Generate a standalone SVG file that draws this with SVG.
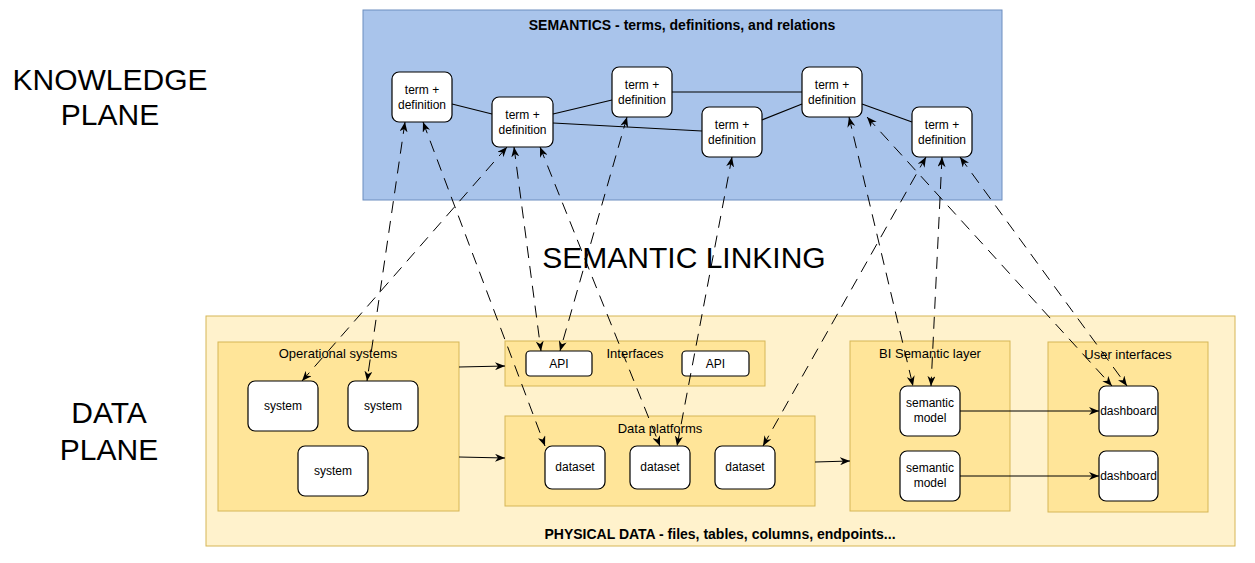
<svg xmlns="http://www.w3.org/2000/svg" width="1255" height="563" viewBox="0 0 1255 563">
<style>
text{font-family:"Liberation Sans",Arial,sans-serif;fill:#000;text-anchor:middle}
.big{font-size:30px}
.t12{font-size:12px}
.t13{font-size:13px}
.b14{font-size:14px;font-weight:bold}
.node{fill:#fff;stroke:#000;stroke-width:1.2}
.grp{fill:#FFE599;stroke:#D6B656;stroke-width:1}
.rel{stroke:#000;stroke-width:1.2;fill:none}
.dash{stroke:#000;stroke-width:1;fill:none;stroke-dasharray:12 8;marker-start:url(#ah);marker-end:url(#ah)}
.flow{stroke:#000;stroke-width:1;fill:none;marker-end:url(#ah)}
</style>
<defs>
<marker id="ah" viewBox="0 0 10 8" refX="10" refY="4" markerWidth="10" markerHeight="8" markerUnits="userSpaceOnUse" orient="auto-start-reverse">
<path d="M0,0 L10,4 L0,8 L3,4 z" style="fill:#000;stroke:none"/>
</marker>
</defs>
<rect width="1255" height="563" fill="#fff"/>

<g id="plane-labels">
<text class="big" x="110" y="90">KNOWLEDGE</text>
<text class="big" x="110" y="125">PLANE</text>
<text class="big" x="109" y="423">DATA</text>
<text class="big" x="109" y="460">PLANE</text>
<text class="big" x="684" y="268">SEMANTIC LINKING</text>
</g>

<g id="semantics">
<rect x="363" y="10" width="639" height="190" fill="#A9C4EB" stroke="#6C8EBF" stroke-width="1"/>
<text class="b14" x="682" y="30">SEMANTICS - terms, definitions, and relations</text>
</g>

<g id="physical-data">
<rect x="206" y="316" width="1029" height="230" fill="#FFF2CC" stroke="#D6B656" stroke-width="1"/>
<text class="b14" x="720" y="539">PHYSICAL DATA - files, tables, columns, endpoints...</text>
</g>

<g id="operational-systems">
<rect class="grp" x="218" y="342" width="241" height="169"/>
<text class="t13" x="338" y="358">Operational systems</text>
</g>
<g id="interfaces">
<rect class="grp" x="505" y="341" width="260" height="45"/>
<text class="t13" x="635" y="358">Interfaces</text>
</g>
<g id="data-platforms">
<rect class="grp" x="505" y="416" width="310" height="90"/>
<text class="t13" x="660" y="433">Data platforms</text>
</g>
<g id="bi-semantic-layer">
<rect class="grp" x="850" y="341" width="160" height="170"/>
<text class="t13" x="930" y="358">BI Semantic layer</text>
</g>
<g id="user-interfaces">
<rect class="grp" x="1048" y="342" width="160" height="170"/>
<text class="t13" x="1128" y="359">User interfaces</text>
</g>

<g id="term1"><rect class="node" x="392" y="72" width="60" height="50" rx="7"/><text class="t12" x="422" y="94">term +</text><text class="t12" x="422" y="109">definition</text></g>
<g id="term2"><rect class="node" x="492" y="97" width="61" height="50" rx="7"/><text class="t12" x="522.5" y="119">term +</text><text class="t12" x="522.5" y="134">definition</text></g>
<g id="term3"><rect class="node" x="612" y="67" width="60" height="50" rx="7"/><text class="t12" x="642" y="89">term +</text><text class="t12" x="642" y="104">definition</text></g>
<g id="term4"><rect class="node" x="702" y="107" width="60" height="50" rx="7"/><text class="t12" x="732" y="129">term +</text><text class="t12" x="732" y="144">definition</text></g>
<g id="term5"><rect class="node" x="802" y="67" width="60" height="50" rx="7"/><text class="t12" x="832" y="89">term +</text><text class="t12" x="832" y="104">definition</text></g>
<g id="term6"><rect class="node" x="912" y="107" width="60" height="50" rx="7"/><text class="t12" x="942" y="129">term +</text><text class="t12" x="942" y="144">definition</text></g>

<g id="system1"><rect class="node" x="248" y="381" width="70" height="50" rx="7"/><text class="t12" x="283" y="410">system</text></g>
<g id="system2"><rect class="node" x="348" y="381" width="70" height="50" rx="7"/><text class="t12" x="383" y="410">system</text></g>
<g id="system3"><rect class="node" x="298" y="446" width="70" height="50" rx="7"/><text class="t12" x="333" y="475">system</text></g>

<g id="api1"><rect class="node" x="526" y="351" width="66" height="25" rx="4"/><text class="t12" x="559" y="368">API</text></g>
<g id="api2"><rect class="node" x="682" y="351" width="67" height="25" rx="4"/><text class="t12" x="715.5" y="368">API</text></g>

<g id="dataset1"><rect class="node" x="545" y="446" width="60" height="43" rx="7"/><text class="t12" x="575" y="471">dataset</text></g>
<g id="dataset2"><rect class="node" x="630" y="446" width="60" height="43" rx="7"/><text class="t12" x="660" y="471">dataset</text></g>
<g id="dataset3"><rect class="node" x="715" y="446" width="60" height="43" rx="7"/><text class="t12" x="745" y="471">dataset</text></g>

<g id="semantic-model1"><rect class="node" x="900" y="386" width="60" height="50" rx="7"/><text class="t12" x="930" y="407">semantic</text><text class="t12" x="930" y="422">model</text></g>
<g id="semantic-model2"><rect class="node" x="900" y="451" width="60" height="50" rx="7"/><text class="t12" x="930" y="472">semantic</text><text class="t12" x="930" y="487">model</text></g>

<g id="dashboard1"><rect class="node" x="1099" y="386" width="59" height="50" rx="7"/><text class="t12" x="1128.5" y="415">dashboard</text></g>
<g id="dashboard2"><rect class="node" x="1099" y="451" width="59" height="50" rx="7"/><text class="t12" x="1128.5" y="480">dashboard</text></g>

<g id="connectors">
<line class="rel" x1="452" y1="104" x2="492" y2="114"/>
<line class="rel" x1="553" y1="114" x2="612" y2="100"/>
<line class="rel" x1="553" y1="123" x2="702" y2="131"/>
<line class="rel" x1="672" y1="92" x2="802" y2="92"/>
<line class="rel" x1="762" y1="120" x2="802" y2="104"/>
<line class="rel" x1="862" y1="104" x2="912" y2="122"/>

<line class="flow" x1="459" y1="367" x2="505" y2="366"/>
<line class="flow" x1="459" y1="457" x2="505" y2="458"/>
<line class="flow" x1="815" y1="462" x2="850" y2="461"/>
<line class="flow" x1="960" y1="411" x2="1099" y2="411"/>
<line class="flow" x1="960" y1="476" x2="1099" y2="476"/>

<line class="dash" x1="405" y1="122" x2="367" y2="381"/>
<line class="dash" x1="423" y1="122" x2="545" y2="446"/>
<line class="dash" x1="507" y1="147" x2="302" y2="381"/>
<line class="dash" x1="514" y1="147" x2="541" y2="351"/>
<line class="dash" x1="540" y1="147" x2="660" y2="446"/>
<line class="dash" x1="627" y1="117" x2="560" y2="351"/>
<line class="dash" x1="732" y1="157" x2="677" y2="446"/>
<line class="dash" x1="849" y1="117" x2="913" y2="386"/>
<line class="dash" x1="867" y1="117" x2="1112" y2="386"/>
<line class="dash" x1="926" y1="157" x2="763" y2="446"/>
<line class="dash" x1="942" y1="157" x2="931" y2="386"/>
<line class="dash" x1="960" y1="157" x2="1127" y2="386"/>
</g>
</svg>
